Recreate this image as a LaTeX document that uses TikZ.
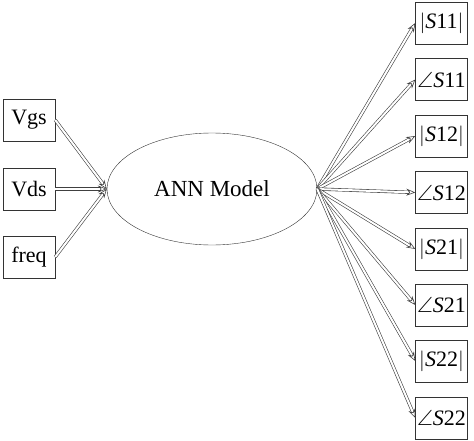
\documentclass[tikz,border=0pt]{standalone}
\usepackage{amssymb}
\usepackage{fontspec}
\setmainfont{Liberation Serif}
\usetikzlibrary{arrows.meta}
\usetikzlibrary{shapes.geometric}

\tikzset{
  box/.style={draw=black!80,minimum width=52,minimum height=42,inner sep=0pt,font=\fontsize{22}{25}\selectfont},
  arr/.style={draw=black!75,double=white,double distance=2pt,line width=0.6pt,-{Stealth[open,length=9pt,width=7pt]}}
}

\begin{document}
\begin{tikzpicture}[x=1pt,y=-1pt]
                \useasboundingbox (0,0) rectangle (474,441);
                \node[ellipse,draw=black!80,minimum width=210,minimum height=112,font=\fontsize{23}{27}\selectfont] (ann) at (212,189) {ANN Model};

                \node[box] (vgs) at (29,120) {Vgs};
                \node[box] (vds) at (29,189) {Vds};
                \node[box] (freq) at (29,257) {freq};

                \node[box] (s11m) at (441.5,23) {$\big|$\textit{S}11$\big|$};
                \node[box] (s11a) at (441.5,79.5) {$\angle$\textit{S}11};
                \node[box] (s12m) at (441.5,136) {$\big|$\textit{S}12$\big|$};
                \node[box] (s12a) at (441.5,192.5) {$\angle$\textit{S}12};
                \node[box] (s21m) at (441.5,249) {$\big|$\textit{S}21$\big|$};
                \node[box] (s21a) at (441.5,305) {$\angle$\textit{S}21};
                \node[box] (s22m) at (441.5,361) {$\big|$\textit{S}22$\big|$};
                \node[box] (s22a) at (441.5,418) {$\angle$\textit{S}22};

                \foreach \n in {vgs,vds,freq}
                    \draw[arr] (\n.east) -- (ann.west);
                \foreach \n in {s11m,s11a,s12m,s12a,s21m,s21a,s22m,s22a}
                    \draw[arr] (ann.east) -- (\n.west);
            \end{tikzpicture}
\end{document}
